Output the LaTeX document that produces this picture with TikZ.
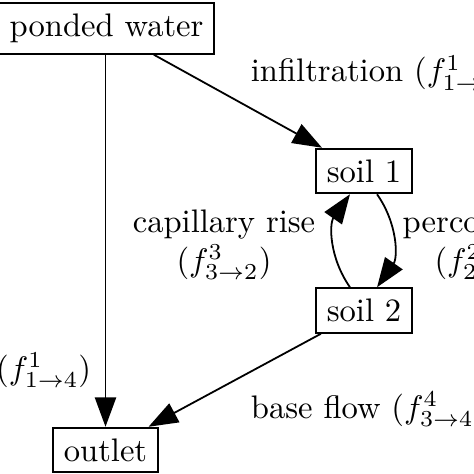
\documentclass[tikz,border=0pt]{standalone}
\usetikzlibrary{arrows.meta}
\begin{document}
\begin{tikzpicture}[x=0.3067pt,y=0.3067pt, line width=0.55pt,
  box/.style={draw, rectangle, inner sep=3.33pt},
  flow/.style={-{Triangle[length=9pt,width=6.5pt]}},
  lbl/.style={inner sep=0pt}]
\useasboundingbox (0,0) rectangle (474,-474);
\clip (0,0) rectangle (474,-474);
\node[box] (pw) at (106.5,-28.5) {ponded water};
\node[box] (s1) at (364,-171) {soil 1};
\node[box] (s2) at (364,-310.5) {soil 2};
\node[box] (out) at (105.5,-450) {outlet};
\draw[flow] (pw) -- (s1);
\draw[flow] (pw.south -| out.north) -- (out.north);
\draw[flow] (s2) -- (out);
\draw[flow] ([xshift=-4.3pt]s2.north) to[bend left=35] ([xshift=-4.3pt]s1.south);
\draw[flow] ([xshift=4pt]s1.south) to[bend left=35] ([xshift=4pt]s2.north);
\node[lbl, anchor=base west] (linf) at (250,-82) {infiltration ($f^1_{1\to2}$)};
\node[lbl, align=center] (lcap) at (224,-244.5) {capillary rise\\($f^3_{3\to2}$)};
\node[lbl, align=center] (lper) at (482,-244.5) {percolation\\($f^2_{2\to3}$)};
\node[lbl, anchor=base west] (lbase) at (250,-418) {base flow ($f^4_{3\to4}$)};
\node[lbl, anchor=base east] (lover) at (92,-379) {($f^1_{1\to4}$)};
\end{tikzpicture}
\end{document}
